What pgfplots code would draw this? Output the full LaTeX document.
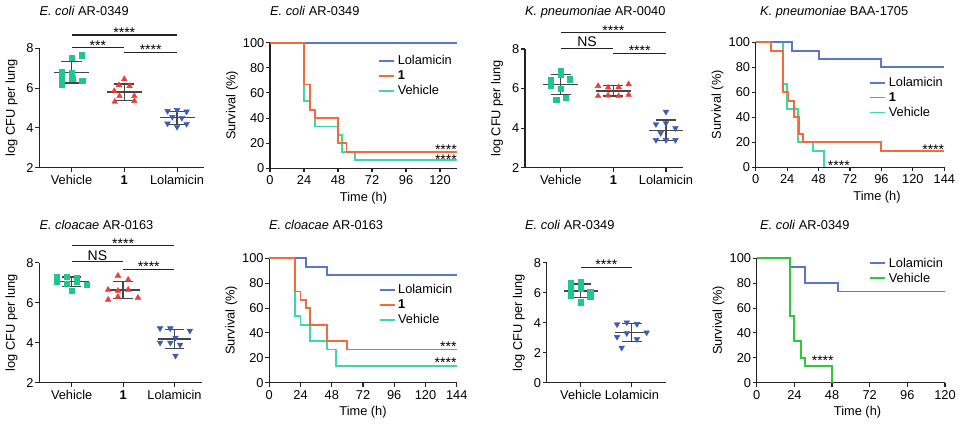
\documentclass[border=0pt]{standalone}
\usepackage{fontspec}
\setmainfont{Liberation Sans}
\usepackage{pgfplots}
\pgfplotsset{compat=1.18}

\definecolor{mgreen}{RGB}{30,200,140}
\definecolor{mred}{RGB}{238,59,59}
\definecolor{mblue}{RGB}{58,92,184}
\definecolor{lblue}{RGB}{92,119,201}
\definecolor{lorange}{RGB}{242,106,61}
\definecolor{lteal}{RGB}{60,217,160}
\definecolor{lgreen}{RGB}{45,200,60}
\definecolor{axisgray}{RGB}{35,35,35}
\definecolor{barline}{RGB}{70,70,70}

\pgfplotsset{
  base/.style={scale only axis, axis lines=left,
    axis line style={-, line width=1.1pt, color=axisgray},
    tick align=outside, major tick length=4pt,
    tick style={line width=1.1pt, color=axisgray},
    clip=false, /pgf/number format/assume math mode=true,
    yticklabel style={inner sep=1.5pt},
    legend style={draw=none, fill=none, inner sep=0pt, row sep=-1pt,
      cells={anchor=west}, nodes={inner sep=2.7pt}, anchor=north west},
    legend image code/.code={\draw[##1, line width=1.9pt] (0pt,0pt) -- (15pt,0pt);}},
  scat/.style={base, xtick={0,1,2}, ymin=2, ymax=8, ytick={2,4,6,8},
    xticklabels={Vehicle,\textbf{1},Lolamicin}, ylabel={log CFU per lung},
    ylabel shift=4pt},
  surv/.style={base, xmin=0, ymin=0, ymax=100, ytick={0,20,...,100},
    ylabel={Survival (\%)}, xlabel={Time (h)}},
  km/.style={const plot, line width=1.9pt, forget plot},
  veh/.style={only marks, mark=square*, mark size=2.7pt, color=mgreen, forget plot},
  cpd/.style={only marks, mark=triangle*, mark size=3.3pt, color=mred, forget plot},
  lol/.style={only marks, mark=triangle*, mark size=3.3pt, color=mblue,
    mark options={rotate=180}, forget plot},
  sdl/.style={barline, line width=1.2pt, forget plot},
}
\tikzset{
  bracket/.style={line width=1.1pt, color=axisgray},
  stars/.style={font=\fontsize{14}{16}\selectfont, inner sep=0pt},
  ttl/.style={anchor=base west, inner sep=0pt},
}

% mean line with SD whiskers: x, mean, sd
\newcommand{\meansd}[3]{%
  \pgfmathsetmacro\ml{#1-0.33}\pgfmathsetmacro\mr{#1+0.33}%
  \pgfmathsetmacro\cl{#1-0.19}\pgfmathsetmacro\cr{#1+0.19}%
  \pgfmathsetmacro\lo{#2-#3}\pgfmathsetmacro\hi{#2+#3}%
  \addplot[sdl] coordinates {(\ml,#2) (\mr,#2)};
  \addplot[sdl] coordinates {(#1,\lo) (#1,\hi)};
  \addplot[sdl] coordinates {(\cl,\lo) (\cr,\lo)};
  \addplot[sdl] coordinates {(\cl,\hi) (\cr,\hi)};
}

\begin{document}
\begin{tikzpicture}[font=\fontsize{12.8}{15.4}\selectfont]
\path[use as bounding box] (0,0) rectangle (960pt,423pt);

% ---------- E. coli AR-0349, lung burden ----------
\begin{axis}[scat, at={(39.3pt,255.3pt)}, width=164.7pt, height=119.4pt,
  xmin=-0.61, xmax=2.51]
\addplot[veh] coordinates {(0.19,7.65) (0.0,7.52) (-0.18,6.82) (0.0,6.75)
  (-0.18,6.54) (0.01,6.47) (0.2,6.37) (-0.18,6.2)};
\addplot[cpd] coordinates {(1.0,6.45) (0.9,6.15) (1.1,6.1) (0.81,5.85)
  (1.19,5.6) (0.91,5.6) (0.82,5.32) (1.19,5.35)};
\addplot[lol] coordinates {(1.82,4.85) (2.0,4.9) (2.18,4.82) (1.91,4.55)
  (2.09,4.5) (1.82,4.22) (2.18,4.2) (2.0,4.05)};
\meansd{0}{6.79}{0.53}
\meansd{1}{5.80}{0.405}
\meansd{2}{4.51}{0.329}
\draw[bracket] (axis cs:0,8.67) -- (axis cs:2,8.67);
\node[stars, anchor=base, yshift=-2.8pt] at (axis cs:1,8.67) {****};
\draw[bracket] (axis cs:0,8.05) -- (axis cs:1,8.05);
\node[stars, anchor=base, yshift=-2.8pt] at (axis cs:0.5,8.05) {***};
\draw[bracket] (axis cs:1,7.78) -- (axis cs:2,7.78);
\node[stars, anchor=base, yshift=-1.8pt] at (axis cs:1.5,7.78) {****};
\end{axis}

% ---------- E. coli AR-0349, survival ----------
\begin{axis}[surv, at={(270pt,254.7pt)}, width=187pt, height=125.6pt,
  xmax=132, xtick={0,24,...,120},
  legend style={at={(axis cs:76.2,92)}}]
\addplot[km, lblue] coordinates {(0,100) (132,100)};
\addplot[km, lteal] coordinates {(0,100) (24,53.3) (28,46.7) (32,33.3)
  (48,26.7) (51,13.3) (60,6.7) (132,6.7)};
\addplot[km, lorange] coordinates {(0,100) (24,66.7) (28,46.7) (32,40)
  (48,20) (54,13.3) (132,13.3)};
\addlegendimage{lblue}\addlegendentry{Lolamicin}
\addlegendimage{lorange}\addlegendentry{\textbf{1}}
\addlegendimage{lteal}\addlegendentry{Vehicle}
\node[stars, anchor=base east, yshift=-3.4pt] at (axis cs:132,13.3) {****};
\node[stars, anchor=base east, yshift=-4.6pt] at (axis cs:132,6.7) {****};
\end{axis}

% ---------- K. pneumoniae AR-0040, lung burden ----------
\begin{axis}[scat, at={(525pt,255.3pt)}, width=158.3pt, height=118.7pt,
  xmin=-0.68, xmax=2.33]
\addplot[veh] coordinates {(0.0,6.88) (0.0,6.7) (-0.19,6.43) (0.17,6.47)
  (-0.19,6.15) (0.0,6.0) (-0.09,5.45) (0.09,5.55)};
\addplot[cpd] coordinates {(0.71,6.13) (0.9,6.05) (1.1,6.07) (1.29,6.22)
  (0.71,5.62) (0.9,5.65) (1.1,5.62) (1.29,5.68)};
\addplot[lol] coordinates {(2.0,4.83) (1.81,4.2) (2.0,4.25) (2.18,4.0)
  (1.9,3.75) (1.81,3.4) (2.0,3.4) (2.18,3.4)};
\meansd{0}{6.20}{0.516}
\meansd{1}{5.88}{0.259}
\meansd{2}{3.90}{0.515}
\draw[bracket] (axis cs:0,8.83) -- (axis cs:2,8.83);
\node[stars, anchor=base, yshift=-2.8pt] at (axis cs:1,8.83) {****};
\draw[bracket] (axis cs:0,8.04) -- (axis cs:1,8.04);
\node[stars, anchor=base, yshift=1.7pt] at (axis cs:0.5,8.04) {NS};
\draw[bracket] (axis cs:1,7.78) -- (axis cs:2,7.78);
\node[stars, anchor=base, yshift=-2pt] at (axis cs:1.5,7.78) {****};
\end{axis}

% ---------- K. pneumoniae BAA-1705, survival ----------
\begin{axis}[surv, at={(755.7pt,255.7pt)}, width=188.6pt, height=125pt,
  xmax=144, xtick={0,24,...,144}, xlabel style={xshift=27pt},
  legend style={at={(axis cs:86.5,74.4)}}]
\addplot[km, lteal] coordinates {(0,100) (21,66.7) (24,46.7) (32,20)
  (44,13.3) (52,0)};
\addplot[km, lblue] coordinates {(0,100) (28,93.3) (48,86.7) (96,80) (144,80)};
\addplot[km, lorange] coordinates {(0,100) (12,93.3) (21,60) (25,53.3)
  (29,40) (33,26.7) (36,20) (96,13.3) (144,13.3)};
\addlegendimage{lblue}\addlegendentry{Lolamicin}
\addlegendimage{lorange}\addlegendentry{\textbf{1}}
\addlegendimage{lteal}\addlegendentry{Vehicle}
\node[stars, anchor=base east, yshift=-3.5pt] at (axis cs:144,13.3) {****};
\node[stars, anchor=base west, yshift=-3.5pt] at (axis cs:55,0) {****};
\end{axis}

% ---------- E. cloacae AR-0163, lung burden ----------
\begin{axis}[scat, at={(39.3pt,40.3pt)}, width=162.4pt, height=120pt,
  xmin=-0.63, xmax=2.53]
\addplot[veh] coordinates {(-0.29,7.3) (-0.1,7.3) (0.1,7.25) (-0.29,7.05)
  (0.1,7.05) (0.29,6.9) (-0.1,6.95) (0.0,6.6)};
\addplot[cpd] coordinates {(0.9,7.35) (1.1,7.15) (0.71,6.65) (0.9,6.6)
  (1.1,6.65) (0.71,6.15) (0.9,6.3) (1.29,6.25)};
\addplot[lol] coordinates {(1.72,4.72) (1.92,4.72) (2.3,4.6) (2.02,4.25)
  (1.72,4.0) (1.92,4.0) (2.11,3.9) (2.02,3.35)};
\meansd{0}{7.05}{0.239}
\meansd{1}{6.64}{0.427}
\meansd{2}{4.19}{0.477}
\draw[bracket] (axis cs:0,8.84) -- (axis cs:2,8.84);
\node[stars, anchor=base, yshift=-2.8pt] at (axis cs:1,8.84) {****};
\draw[bracket] (axis cs:0,8.05) -- (axis cs:1,8.05);
\node[stars, anchor=base, yshift=1.6pt] at (axis cs:0.5,8.05) {NS};
\draw[bracket] (axis cs:1,7.67) -- (axis cs:2,7.67);
\node[stars, anchor=base, yshift=-2pt] at (axis cs:1.5,7.67) {****};
\end{axis}

% ---------- E. cloacae AR-0163, survival ----------
\begin{axis}[surv, at={(269.3pt,40.3pt)}, width=187.4pt, height=124.4pt,
  xmax=144, xtick={0,24,...,144},
  legend style={at={(axis cs:83.8,81.3)}}]
\addplot[km, lteal] coordinates {(0,100) (20,53.3) (24,46.7) (31,33.3)
  (44,26.7) (51,13.3) (144,13.3)};
\addplot[km, lblue] coordinates {(0,100) (28,93.3) (44,86.7) (144,86.7)};
\addplot[km, lorange] coordinates {(0,100) (20,73.3) (24,66.7) (28,60)
  (31,46.7) (44,33.3) (60,26.7) (144,26.7)};
\addlegendimage{lblue}\addlegendentry{Lolamicin}
\addlegendimage{lorange}\addlegendentry{\textbf{1}}
\addlegendimage{lteal}\addlegendentry{Vehicle}
\node[stars, anchor=base east, yshift=-1.7pt] at (axis cs:144,26.7) {***};
\node[stars, anchor=base east, yshift=-1.6pt] at (axis cs:144,13.3) {****};
\end{axis}

% ---------- E. coli AR-0349, lung burden (two groups) ----------
\begin{axis}[base, at={(546.7pt,40.3pt)}, width=119.3pt, height=120pt,
  xmin=-0.67, xmax=1.67, xtick={0,1}, xticklabels={Vehicle,Lolamicin},
  ymin=0, ymax=8, ytick={0,2,4,6,8}, ylabel={log CFU per lung},
  ylabel shift=4pt]
\addplot[veh] coordinates {(-0.2,6.67) (0.0,6.74) (-0.2,6.24) (0.0,6.29)
  (0.18,6.05) (-0.2,5.84) (0.18,5.72) (0.0,5.38)};
\addplot[lol] coordinates {(0.9,4.02) (1.1,3.91) (0.71,3.89) (0.9,3.3)
  (1.29,3.35) (0.71,3.05) (1.1,2.9) (0.8,2.33)};
\meansd{0}{6.12}{0.466}
\meansd{1}{3.34}{0.584}
\draw[bracket] (axis cs:0,7.69) -- (axis cs:1,7.69);
\node[stars, anchor=base, yshift=-2.5pt] at (axis cs:0.5,7.69) {****};
\end{axis}

% ---------- E. coli AR-0349, survival (two groups) ----------
\begin{axis}[surv, at={(756.7pt,40.3pt)}, width=188.3pt, height=124.4pt,
  xmax=120, xtick={0,24,...,120}, xlabel style={xshift=6.7pt},
  legend style={at={(axis cs:71.6,102.7)}}]
\addplot[km, lblue] coordinates {(0,100) (21,93.3) (31,80) (52,73.3) (120,73.3)};
\addplot[km, lgreen] coordinates {(0,100) (21,53.3) (24,33.3) (28,20)
  (31,13.3) (48,0)};
\addlegendimage{lblue}\addlegendentry{Lolamicin}
\addlegendimage{lgreen}\addlegendentry{Vehicle}
\node[stars, anchor=base west, yshift=1pt] at (axis cs:35,13.3) {****};
\end{axis}

% panel titles
\node[ttl] at (39.3pt,407.4pt) {\textit{E. coli} AR-0349};
\node[ttl] at (270pt,407.4pt) {\textit{E. coli} AR-0349};
\node[ttl] at (525pt,407.4pt) {\textit{K. pneumoniae} AR-0040};
\node[ttl] at (760pt,407.4pt) {\textit{K. pneumoniae} BAA-1705};
\node[ttl] at (39.3pt,193.4pt) {\textit{E. cloacae} AR-0163};
\node[ttl] at (269pt,193.4pt) {\textit{E. cloacae} AR-0163};
\node[ttl] at (525pt,193.4pt) {\textit{E. coli} AR-0349};
\node[ttl] at (760pt,193.4pt) {\textit{E. coli} AR-0349};
\end{tikzpicture}
\end{document}
